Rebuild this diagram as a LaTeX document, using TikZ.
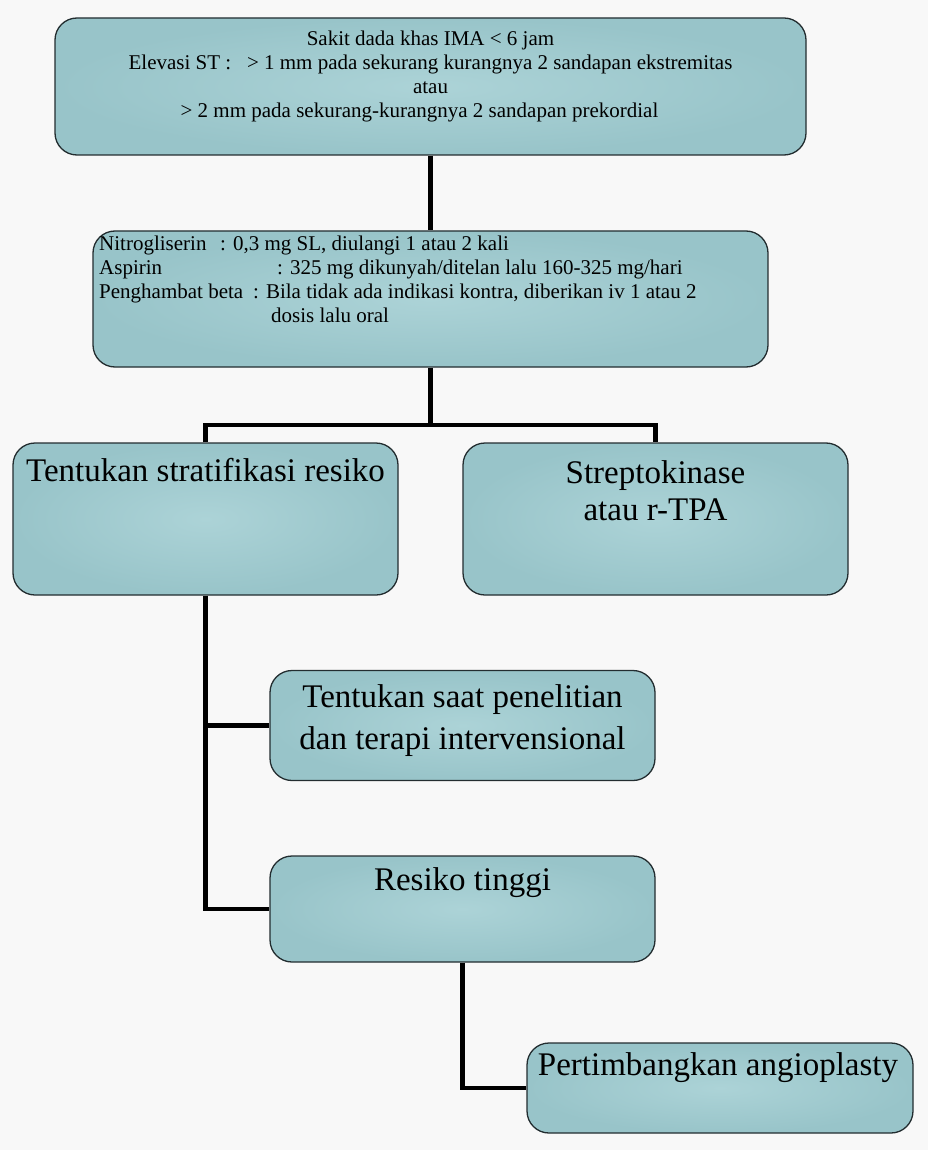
\documentclass[tikz,border=0pt]{standalone}
\usepackage{fontspec}
\setmainfont{Liberation Serif}
\definecolor{boxlight}{RGB}{172,211,215}
\definecolor{boxdark}{RGB}{152,196,201}
\definecolor{boxline}{RGB}{35,45,48}
\definecolor{paper}{RGB}{248,248,248}
\begin{document}
\begin{tikzpicture}
  [x=1pt,y=-1pt,
   box/.style={draw=boxline,line width=1.3pt,inner color=boxlight,outer color=boxdark,rounded corners=22pt,inner sep=0pt},
   link/.style={line width=4.5pt},
   small/.style={font=\fontsize{21}{24}\selectfont,inner sep=0pt},
   big/.style={font=\fontsize{33}{37}\selectfont,align=center,inner sep=0pt}]
  \fill[paper] (0,0) rectangle (928,1150);

  % boxes
  \node[box,minimum width=751pt,minimum height=137pt] (b1) at (430.5,86.5) {};
  \node[box,minimum width=675pt,minimum height=136pt] (b2) at (430.5,299) {};
  \node[box,minimum width=385pt,minimum height=152pt] (b3) at (205.5,519) {};
  \node[box,minimum width=385pt,minimum height=152pt] (b4) at (655.5,519) {};
  \node[box,minimum width=385pt,minimum height=110pt] (b5) at (462.5,725.5) {};
  \node[box,minimum width=385pt,minimum height=106pt] (b6) at (462.5,909) {};
  \node[box,minimum width=386pt,minimum height=90pt] (b7) at (720,1088) {};

  % texts
  \node[small,align=center,anchor=north] (t1) at (430.5,31) {Sakit dada khas IMA < 6 jam\\
    Elevasi ST : \ \ > 1 mm pada sekurang kurangnya 2 sandapan ekstremitas\\
    atau\\
    > 2 mm pada sekurang-kurangnya 2 sandapan prekordial\hspace*{22pt}};
  \node[small,align=left,anchor=north west] (t2) at (99,236) {%
    \makebox[121pt][l]{Nitrogliserin}: 0,3 mg SL, diulangi 1 atau 2 kali\\
    \makebox[178pt][l]{Aspirin}: 325 mg dikunyah/ditelan lalu 160-325 mg/hari\\
    \makebox[154pt][l]{Penghambat beta}: Bila tidak ada indikasi kontra, diberikan iv 1 atau 2\\
    \hspace*{172pt}dosis lalu oral};
  \node[big,anchor=base] (t3) at (205.5,481) {Tentukan stratifikasi resiko};
  \node[big,anchor=north] (t4) at (655.5,460) {Streptokinase\\atau r-TPA};
  \node[big,anchor=north,font=\fontsize{33}{42}\selectfont] (t5) at (462.5,684) {Tentukan saat penelitian\\dan terapi intervensional};
  \node[big,anchor=base] (t6) at (462.5,890) {Resiko tinggi};
  \node[big,anchor=base] (t7) at (718,1075) {Pertimbangkan angioplasty};

  % connectors
  \coordinate (split) at (430.5,425);
  \draw[link] (b1.south) -- (b2.north);
  \draw[link] (b2.south) -- (split);
  \draw[link] (b3.north) |- (split) -| (b4.north);
  \draw[link] (b3.south) |- (b5.west);
  \draw[link] (b3.south) |- (b6.west);
  \draw[link] (b6.south) |- (b7.west);
\end{tikzpicture}
\end{document}
